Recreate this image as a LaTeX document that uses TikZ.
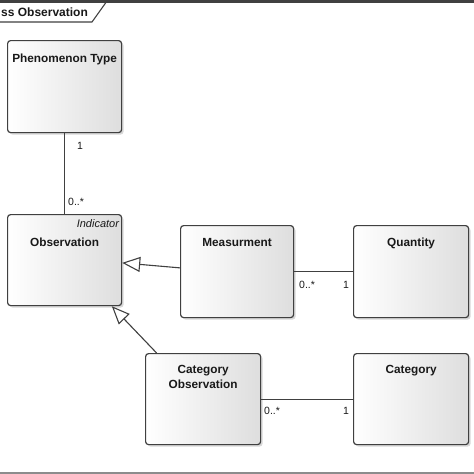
\documentclass[tikz,border=0pt]{standalone}
\usepackage{fontspec}
\setmainfont{Liberation Sans}
\usetikzlibrary{arrows.meta,shadows,calc}
\definecolor{edge}{HTML}{404040}
\tikzset{
  cls/.style={draw=edge, line width=1.2pt, rounded corners=3pt, left color=white, right color=black!13,
    drop shadow={shadow xshift=2pt, shadow yshift=-2pt, opacity=0.25, fill=black!60},
    anchor=north west, inner sep=0pt, minimum width=114pt, minimum height=92pt},
  ttl/.style={font=\bfseries\fontsize{11.8}{15}\selectfont, text=black!90, align=center, inner sep=0pt},
  mult/.style={font=\fontsize{10.5}{12}\selectfont, text=black!90, inner sep=0pt},
  conn/.style={draw=edge, line width=1.1pt},
  gen/.style={conn, -{Triangle[open, length=18pt, width=15pt, line width=1.1pt]}}
}
\begin{document}
\begin{tikzpicture}[x=1pt,y=-1pt]
\useasboundingbox (0,0) rectangle (474,474);
\fill[white] (0,0) rectangle (474,474);
% frame
\fill[edge] (0,0) rectangle (474,2.5);
\fill[black!45] (0,472) rectangle (474,474);
\draw[edge, line width=1.1pt] (-2,22) -- (92,22) -- (107,1);
\node[font=\bfseries\fontsize{12}{14}\selectfont, text=black!90, anchor=west, inner sep=0pt] (frametitle) at (1,12) {ss Observation};
% classes
\node[cls] (pt) at (7,40) {};
\node[ttl, anchor=north] (ptt) at ($(pt.north)+(0,13.5)$) {Phenomenon Type};
\node[cls, minimum height=91pt] (obs) at (7,214) {};
\node[font=\itshape\fontsize{11}{13}\selectfont, text=black!90, anchor=north east, inner sep=0pt] (obsst) at ($(obs.north east)+(-3,5)$) {Indicator};
\node[ttl, anchor=north] (obst) at ($(obs.north)+(0,24)$) {Observation};
\node[cls, minimum width=113pt] (ms) at (180,225) {};
\node[ttl, anchor=north] (mst) at ($(ms.north)+(0,13)$) {Measurment};
\node[cls, minimum width=115pt] (qt) at (353,225) {};
\node[ttl, anchor=north] (qtt) at ($(qt.north)+(0,13)$) {Quantity};
\node[cls, minimum width=115pt, minimum height=91pt] (co) at (145,353) {};
\node[ttl, anchor=north] (cot) at ($(co.north)+(0,12)$) {Category\\Observation};
\node[cls, minimum width=115pt, minimum height=91pt] (cat) at (353,353) {};
\node[ttl, anchor=north] (catt) at ($(cat.north)+(0,12)$) {Category};
% connectors
\draw[conn] (pt.south) -- (obs.north);
\node[mult] (m1) at (80,146) {1};
\node[mult, anchor=west] (m2) at (68,202) {0..*};
\draw[gen] ($(ms.north west)!0.46!(ms.south west)$) -- ($(obs.north east)!0.53!(obs.south east)$);
\draw[gen] ($(co.north west)!0.1!(co.north east)$) -- ($(obs.south west)!0.91!(obs.south east)$);
\draw[conn] (ms.east) -- (qt.west);
\node[mult, anchor=west] (m3) at (299,285) {0..*};
\node[mult] (m4) at (346,285) {1};
\draw[conn] (co.east) -- (cat.west);
\node[mult, anchor=west] (m5) at (264,411) {0..*};
\node[mult] (m6) at (346,411) {1};
\end{tikzpicture}
\end{document}
